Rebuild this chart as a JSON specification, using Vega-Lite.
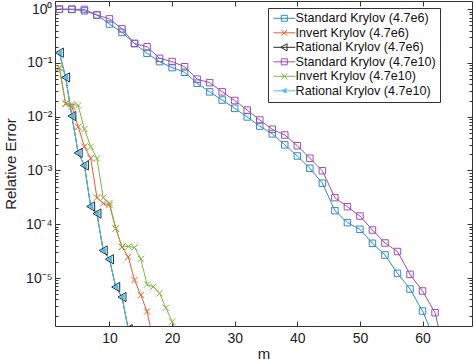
{
  "$schema": "https://vega.github.io/schema/vega-lite/v6.json",
  "width": 417,
  "height": 325,
  "autosize": {"type": "none"},
  "padding": {"left": 55, "top": 1, "right": 2, "bottom": 37},
  "background": "white",
  "config": {
    "view": {"stroke": "#333333", "strokeWidth": 1},
    "font": "Liberation Sans",
    "axis": {"grid": false, "domain": false, "labelFont": "Liberation Sans", "titleFont": "Liberation Sans", "labelColor": "#222222", "titleColor": "#222222", "tickColor": "#333333", "titleFontWeight": "normal"}
  },
  "data": {
    "values": [
      {"s": "Standard Krylov (4.7e6)", "m": 2, "e": 1.0},
      {"s": "Standard Krylov (4.7e6)", "m": 4, "e": 0.99},
      {"s": "Standard Krylov (4.7e6)", "m": 6, "e": 0.93},
      {"s": "Standard Krylov (4.7e6)", "m": 8, "e": 0.78},
      {"s": "Standard Krylov (4.7e6)", "m": 10, "e": 0.53},
      {"s": "Standard Krylov (4.7e6)", "m": 12, "e": 0.37},
      {"s": "Standard Krylov (4.7e6)", "m": 14, "e": 0.23},
      {"s": "Standard Krylov (4.7e6)", "m": 16, "e": 0.151},
      {"s": "Standard Krylov (4.7e6)", "m": 18, "e": 0.106},
      {"s": "Standard Krylov (4.7e6)", "m": 20, "e": 0.082},
      {"s": "Standard Krylov (4.7e6)", "m": 22, "e": 0.067},
      {"s": "Standard Krylov (4.7e6)", "m": 24, "e": 0.042},
      {"s": "Standard Krylov (4.7e6)", "m": 26, "e": 0.029},
      {"s": "Standard Krylov (4.7e6)", "m": 28, "e": 0.0204},
      {"s": "Standard Krylov (4.7e6)", "m": 30, "e": 0.0143},
      {"s": "Standard Krylov (4.7e6)", "m": 32, "e": 0.0099},
      {"s": "Standard Krylov (4.7e6)", "m": 34, "e": 0.0067},
      {"s": "Standard Krylov (4.7e6)", "m": 36, "e": 0.0048},
      {"s": "Standard Krylov (4.7e6)", "m": 38, "e": 0.003},
      {"s": "Standard Krylov (4.7e6)", "m": 40, "e": 0.00186},
      {"s": "Standard Krylov (4.7e6)", "m": 42, "e": 0.0011},
      {"s": "Standard Krylov (4.7e6)", "m": 44, "e": 0.00058},
      {"s": "Standard Krylov (4.7e6)", "m": 46, "e": 0.000179},
      {"s": "Standard Krylov (4.7e6)", "m": 48, "e": 0.000107},
      {"s": "Standard Krylov (4.7e6)", "m": 50, "e": 0.0000806},
      {"s": "Standard Krylov (4.7e6)", "m": 52, "e": 0.0000442},
      {"s": "Standard Krylov (4.7e6)", "m": 54, "e": 0.0000268},
      {"s": "Standard Krylov (4.7e6)", "m": 56, "e": 0.0000122},
      {"s": "Standard Krylov (4.7e6)", "m": 58, "e": 0.00000624},
      {"s": "Standard Krylov (4.7e6)", "m": 60, "e": 0.00000243},
      {"s": "Standard Krylov (4.7e6)", "m": 62, "e": 0.0000007},
      {"s": "Invert Krylov (4.7e6)", "m": 2, "e": 0.08},
      {"s": "Invert Krylov (4.7e6)", "m": 3, "e": 0.0172},
      {"s": "Invert Krylov (4.7e6)", "m": 4, "e": 0.0155},
      {"s": "Invert Krylov (4.7e6)", "m": 5, "e": 0.0065},
      {"s": "Invert Krylov (4.7e6)", "m": 6, "e": 0.00277},
      {"s": "Invert Krylov (4.7e6)", "m": 7, "e": 0.00169},
      {"s": "Invert Krylov (4.7e6)", "m": 8, "e": 0.000312},
      {"s": "Invert Krylov (4.7e6)", "m": 9, "e": 0.000245},
      {"s": "Invert Krylov (4.7e6)", "m": 10, "e": 0.000228},
      {"s": "Invert Krylov (4.7e6)", "m": 11, "e": 0.0000834},
      {"s": "Invert Krylov (4.7e6)", "m": 12, "e": 0.0000377},
      {"s": "Invert Krylov (4.7e6)", "m": 13, "e": 0.0000246},
      {"s": "Invert Krylov (4.7e6)", "m": 14, "e": 0.00000918},
      {"s": "Invert Krylov (4.7e6)", "m": 15, "e": 0.00000483},
      {"s": "Invert Krylov (4.7e6)", "m": 16, "e": 0.00000238},
      {"s": "Invert Krylov (4.7e6)", "m": 17, "e": 0.0000007},
      {"s": "Rational Krylov (4.7e6)", "m": 2, "e": 0.155},
      {"s": "Rational Krylov (4.7e6)", "m": 3, "e": 0.0537},
      {"s": "Rational Krylov (4.7e6)", "m": 4, "e": 0.0103},
      {"s": "Rational Krylov (4.7e6)", "m": 5, "e": 0.00212},
      {"s": "Rational Krylov (4.7e6)", "m": 6, "e": 0.00124},
      {"s": "Rational Krylov (4.7e6)", "m": 7, "e": 0.000214},
      {"s": "Rational Krylov (4.7e6)", "m": 8, "e": 0.000158},
      {"s": "Rational Krylov (4.7e6)", "m": 9, "e": 0.0000325},
      {"s": "Rational Krylov (4.7e6)", "m": 10, "e": 0.0000223},
      {"s": "Rational Krylov (4.7e6)", "m": 11, "e": 0.0000068},
      {"s": "Rational Krylov (4.7e6)", "m": 12, "e": 0.00000443},
      {"s": "Rational Krylov (4.7e6)", "m": 13, "e": 0.00000112},
      {"s": "Standard Krylov (4.7e10)", "m": 2, "e": 1.0},
      {"s": "Standard Krylov (4.7e10)", "m": 4, "e": 1.0},
      {"s": "Standard Krylov (4.7e10)", "m": 6, "e": 0.99},
      {"s": "Standard Krylov (4.7e10)", "m": 8, "e": 0.78},
      {"s": "Standard Krylov (4.7e10)", "m": 10, "e": 0.66},
      {"s": "Standard Krylov (4.7e10)", "m": 12, "e": 0.43},
      {"s": "Standard Krylov (4.7e10)", "m": 14, "e": 0.23},
      {"s": "Standard Krylov (4.7e10)", "m": 16, "e": 0.2},
      {"s": "Standard Krylov (4.7e10)", "m": 18, "e": 0.122},
      {"s": "Standard Krylov (4.7e10)", "m": 20, "e": 0.106},
      {"s": "Standard Krylov (4.7e10)", "m": 22, "e": 0.085},
      {"s": "Standard Krylov (4.7e10)", "m": 24, "e": 0.05},
      {"s": "Standard Krylov (4.7e10)", "m": 26, "e": 0.043},
      {"s": "Standard Krylov (4.7e10)", "m": 28, "e": 0.029},
      {"s": "Standard Krylov (4.7e10)", "m": 30, "e": 0.02},
      {"s": "Standard Krylov (4.7e10)", "m": 32, "e": 0.0133},
      {"s": "Standard Krylov (4.7e10)", "m": 34, "e": 0.0087},
      {"s": "Standard Krylov (4.7e10)", "m": 36, "e": 0.00584},
      {"s": "Standard Krylov (4.7e10)", "m": 38, "e": 0.00457},
      {"s": "Standard Krylov (4.7e10)", "m": 40, "e": 0.00289},
      {"s": "Standard Krylov (4.7e10)", "m": 42, "e": 0.00169},
      {"s": "Standard Krylov (4.7e10)", "m": 44, "e": 0.00099},
      {"s": "Standard Krylov (4.7e10)", "m": 46, "e": 0.000312},
      {"s": "Standard Krylov (4.7e10)", "m": 48, "e": 0.000212},
      {"s": "Standard Krylov (4.7e10)", "m": 50, "e": 0.000142},
      {"s": "Standard Krylov (4.7e10)", "m": 52, "e": 0.0000781},
      {"s": "Standard Krylov (4.7e10)", "m": 54, "e": 0.0000448},
      {"s": "Standard Krylov (4.7e10)", "m": 56, "e": 0.0000311},
      {"s": "Standard Krylov (4.7e10)", "m": 58, "e": 0.0000117},
      {"s": "Standard Krylov (4.7e10)", "m": 60, "e": 0.00000573},
      {"s": "Standard Krylov (4.7e10)", "m": 62, "e": 0.00000226},
      {"s": "Standard Krylov (4.7e10)", "m": 64, "e": 0.00000023},
      {"s": "Invert Krylov (4.7e10)", "m": 2, "e": 0.081},
      {"s": "Invert Krylov (4.7e10)", "m": 3, "e": 0.0177},
      {"s": "Invert Krylov (4.7e10)", "m": 4, "e": 0.0169},
      {"s": "Invert Krylov (4.7e10)", "m": 5, "e": 0.0162},
      {"s": "Invert Krylov (4.7e10)", "m": 6, "e": 0.0059},
      {"s": "Invert Krylov (4.7e10)", "m": 7, "e": 0.00277},
      {"s": "Invert Krylov (4.7e10)", "m": 8, "e": 0.00167},
      {"s": "Invert Krylov (4.7e10)", "m": 9, "e": 0.000312},
      {"s": "Invert Krylov (4.7e10)", "m": 10, "e": 0.000248},
      {"s": "Invert Krylov (4.7e10)", "m": 11, "e": 0.0000841},
      {"s": "Invert Krylov (4.7e10)", "m": 12, "e": 0.0000382},
      {"s": "Invert Krylov (4.7e10)", "m": 13, "e": 0.0000385},
      {"s": "Invert Krylov (4.7e10)", "m": 14, "e": 0.000037},
      {"s": "Invert Krylov (4.7e10)", "m": 15, "e": 0.0000226},
      {"s": "Invert Krylov (4.7e10)", "m": 16, "e": 0.00000757},
      {"s": "Invert Krylov (4.7e10)", "m": 17, "e": 0.00000689},
      {"s": "Invert Krylov (4.7e10)", "m": 18, "e": 0.00000519},
      {"s": "Invert Krylov (4.7e10)", "m": 19, "e": 0.0000028},
      {"s": "Invert Krylov (4.7e10)", "m": 20, "e": 0.00000154},
      {"s": "Invert Krylov (4.7e10)", "m": 21, "e": 0.00000083},
      {"s": "Rational Krylov (4.7e10)", "m": 2, "e": 0.155},
      {"s": "Rational Krylov (4.7e10)", "m": 3, "e": 0.0537},
      {"s": "Rational Krylov (4.7e10)", "m": 4, "e": 0.0103},
      {"s": "Rational Krylov (4.7e10)", "m": 5, "e": 0.00212},
      {"s": "Rational Krylov (4.7e10)", "m": 6, "e": 0.00124},
      {"s": "Rational Krylov (4.7e10)", "m": 7, "e": 0.000214},
      {"s": "Rational Krylov (4.7e10)", "m": 8, "e": 0.000158},
      {"s": "Rational Krylov (4.7e10)", "m": 9, "e": 0.0000325},
      {"s": "Rational Krylov (4.7e10)", "m": 10, "e": 0.0000223},
      {"s": "Rational Krylov (4.7e10)", "m": 11, "e": 0.0000068},
      {"s": "Rational Krylov (4.7e10)", "m": 12, "e": 0.00000443},
      {"s": "Rational Krylov (4.7e10)", "m": 13, "e": 0.00000112}
    ]
  },
  "resolve": {"axis": {"x": "independent", "y": "independent"}},
  "layer": [
    {
      "mark": {"type": "line", "strokeWidth": 1, "clip": true},
      "encoding": {
        "x": {"field": "m", "type": "quantitative", "scale": {"domain": [1.3, 67.9], "nice": false, "zero": false},
          "axis": {"orient": "bottom", "values": [10, 20, 30, 40, 50, 60], "tickSize": -5, "labelPadding": 10, "labelFontSize": 14, "title": "m", "titleFontSize": 15, "titlePadding": 1}},
        "y": {"field": "e", "type": "quantitative", "scale": {"type": "log", "domain": [0.00000128, 1.42], "nice": false},
          "axis": {"orient": "left",
            "values": [0.000002,0.000003,0.000004,0.000005,0.000006,0.000007,0.000008,0.000009,0.00001,0.00002,0.00003,0.00004,0.00005,0.00006,0.00007,0.00008,0.00009,0.0001,0.0002,0.0003,0.0004,0.0005,0.0006,0.0007,0.0008,0.0009,0.001,0.002,0.003,0.004,0.005,0.006,0.007,0.008,0.009,0.01,0.02,0.03,0.04,0.05,0.06,0.07,0.08,0.09,0.1,0.2,0.3,0.4,0.5,0.6,0.7,0.8,0.9,1],
            "tickSize": {"condition": {"test": "abs(log(datum.value)/LN10 - round(log(datum.value)/LN10)) < 0.001", "value": -5}, "value": -3},
            "labelPadding": 8,
            "labelFontSize": 14,
            "labelExpr": "abs(log(datum.value)/LN10 - round(log(datum.value)/LN10)) > 0.001 ? '' : '10' + ['⁰','⁻¹','⁻²','⁻³','⁻⁴','⁻⁵','⁻⁶'][-round(log(datum.value)/LN10)]",
            "title": "Relative Error", "titleFontSize": 15, "titlePadding": 7}},
        "color": {"field": "s", "type": "nominal",
          "scale": {"domain": ["Standard Krylov (4.7e6)", "Invert Krylov (4.7e6)", "Rational Krylov (4.7e6)", "Standard Krylov (4.7e10)", "Invert Krylov (4.7e10)", "Rational Krylov (4.7e10)"],
                    "range": ["#2F8AD0", "#E0602F", "#2B2B2B", "#9E4DB5", "#7FB541", "#4DBEEE"]},
          "legend": {"title": null, "orient": "none", "legendX": 213, "legendY": 7,
            "labelFont": "Liberation Sans", "labelFontSize": 12.6, "labelColor": "#111111", "labelLimit": 300,
            "strokeColor": "#333333", "fillColor": "white", "padding": 4, "rowPadding": 1.5,
            "symbolSize": 100, "symbolStrokeWidth": 1, "symbolOffset": 6, "labelOffset": 5,
            "symbolFillColor": "transparent",
            "encode": {"symbols": {"update": {
              "shape": {"signal": "(datum.value === 'Standard Krylov (4.7e6)' || datum.value === 'Standard Krylov (4.7e10)') ? 'M-2.2,0H2.2M-0.6,-0.6H0.6V0.6H-0.6Z' : (datum.value === 'Invert Krylov (4.7e6)' || datum.value === 'Invert Krylov (4.7e10)') ? 'M-2.2,0H2.2M-0.6,-0.6L0.6,0.6M-0.6,0.6L0.6,-0.6' : datum.value === 'Rational Krylov (4.7e10)' ? 'M-2.2,0H2.2M-0.45,0L0.35,-0.45L0.35,0.45Z' : 'M-2.2,0H2.2M-0.7,0L0.55,-0.7L0.55,0.7Z'"},
              "fill": {"signal": "datum.value === 'Rational Krylov (4.7e10)' ? '#4DBEEE' : 'transparent'"},
              "stroke": {"signal": "datum.value === 'Standard Krylov (4.7e6)' ? '#2F8AD0' : datum.value === 'Invert Krylov (4.7e6)' ? '#E0602F' : datum.value === 'Rational Krylov (4.7e6)' ? '#2B2B2B' : datum.value === 'Standard Krylov (4.7e10)' ? '#9E4DB5' : datum.value === 'Invert Krylov (4.7e10)' ? '#7FB541' : '#4DBEEE'"},
              "strokeWidth": {"value": 1},
              "opacity": {"value": 1}
            }}}}},
        "detail": {"field": "s"}
      }
    },
    {
      "transform": [{"filter": "datum.s === 'Standard Krylov (4.7e6)' || datum.s === 'Standard Krylov (4.7e10)'"}],
      "mark": {"type": "point", "shape": "square", "filled": false, "size": 42, "strokeWidth": 1, "clip": true, "opacity": 1},
      "encoding": {
        "x": {"field": "m", "type": "quantitative",
          "axis": {"orient": "top", "values": [10, 20, 30, 40, 50, 60], "tickSize": -5, "labels": false, "title": null}},
        "y": {"field": "e", "type": "quantitative",
          "axis": {"orient": "right",
            "values": [0.000002,0.000003,0.000004,0.000005,0.000006,0.000007,0.000008,0.000009,0.00001,0.00002,0.00003,0.00004,0.00005,0.00006,0.00007,0.00008,0.00009,0.0001,0.0002,0.0003,0.0004,0.0005,0.0006,0.0007,0.0008,0.0009,0.001,0.002,0.003,0.004,0.005,0.006,0.007,0.008,0.009,0.01,0.02,0.03,0.04,0.05,0.06,0.07,0.08,0.09,0.1,0.2,0.3,0.4,0.5,0.6,0.7,0.8,0.9,1],
            "tickSize": {"condition": {"test": "abs(log(datum.value)/LN10 - round(log(datum.value)/LN10)) < 0.001", "value": -5}, "value": -3},
            "labels": false, "title": null}},
        "color": {"field": "s", "type": "nominal"}
      }
    },
    {
      "transform": [{"filter": "datum.s === 'Invert Krylov (4.7e6)' || datum.s === 'Invert Krylov (4.7e10)'"}],
      "mark": {"type": "point", "shape": "M-1,-1L1,1M-1,1L1,-1", "filled": false, "size": 40, "strokeWidth": 1, "clip": true, "opacity": 1},
      "encoding": {
        "x": {"field": "m", "type": "quantitative", "axis": null},
        "y": {"field": "e", "type": "quantitative", "axis": null},
        "color": {"field": "s", "type": "nominal"}
      }
    },
    {
      "transform": [{"filter": "datum.s === 'Rational Krylov (4.7e6)'"}],
      "mark": {"type": "point", "shape": "triangle-left", "filled": false, "size": 85, "strokeWidth": 1, "clip": true, "opacity": 1},
      "encoding": {
        "x": {"field": "m", "type": "quantitative", "axis": null},
        "y": {"field": "e", "type": "quantitative", "axis": null},
        "color": {"field": "s", "type": "nominal"}
      }
    },
    {
      "transform": [{"filter": "datum.s === 'Rational Krylov (4.7e10)'"}],
      "mark": {"type": "point", "shape": "triangle-left", "filled": true, "size": 40, "clip": true, "opacity": 1, "color": "#4DBEEE"},
      "encoding": {
        "x": {"field": "m", "type": "quantitative", "axis": null},
        "y": {"field": "e", "type": "quantitative", "axis": null}
      }
    }
  ]
}
